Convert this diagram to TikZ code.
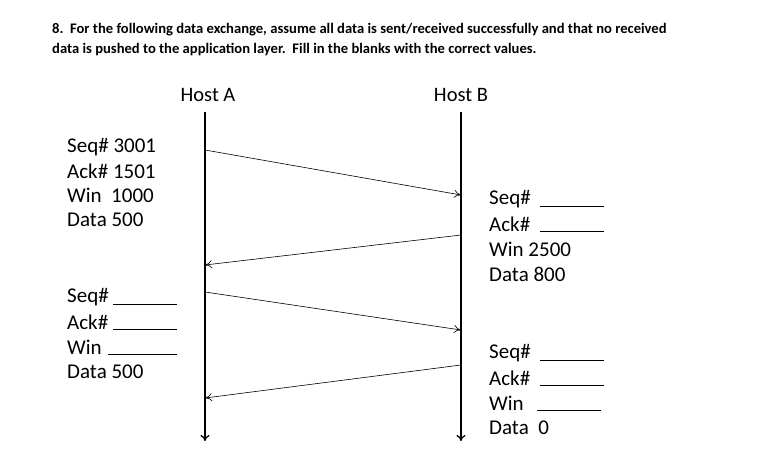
\documentclass[tikz,border=0pt]{standalone}
\usepackage{fontspec}
\setmainfont{Carlito}
\usetikzlibrary{arrows.meta}
\begin{document}
\begin{tikzpicture}[x=1pt,y=-1pt,
  lbl/.style={anchor=west,inner sep=0pt,font=\fontsize{21}{24}\selectfont},
  hd/.style={anchor=west,inner sep=0pt,font=\fontsize{14.6}{16}\selectfont\bfseries},
  tl/.style={line width=1.3pt,-{To[length=6pt,width=9pt]}},
  msg/.style={line width=0.6pt,-{To[length=7pt,width=8pt]}},
  blank/.style={line width=0.6pt}]
\useasboundingbox (0,0) rectangle (757,470);
\node[hd] (h1) at (52,30) {8.\ \ For the following data exchange, assume all data is sent/received successfully and that no received};
\node[hd] (h2) at (52,50) {data is pushed to the application layer.\ \ Fill in the blanks with the correct values.};
\node[inner sep=0pt,font=\fontsize{20.5}{22}\selectfont] (ha) at (208,95) {Host A};
\node[inner sep=0pt,font=\fontsize{20.5}{22}\selectfont] (hb) at (461,95) {Host B};
\coordinate (at) at (205,112); \coordinate (ab) at (205,441);
\coordinate (bt) at (461,112); \coordinate (bb) at (461,441);
\draw[tl] (at) -- (ab);
\draw[tl] (bt) -- (bb);
\coordinate (a1) at (205,150); \coordinate (b1) at (461,195);
\coordinate (b2) at (461,235); \coordinate (a2) at (205,265);
\coordinate (a3) at (205,292); \coordinate (b3) at (461,330);
\coordinate (b4) at (461,365); \coordinate (a4) at (205,398);
\draw[msg] (a1) -- (b1);
\draw[msg] (b2) -- (a2);
\draw[msg] (a3) -- (b3);
\draw[msg] (b4) -- (a4);
% left
\node[lbl] (l1) at (67,147) {Seq\# 3001};
\node[lbl] (l2) at (67,171) {Ack\# 1501};
\node[lbl] (l3) at (67,195) {Win\ \ 1000};
\node[lbl] (l4) at (67,220) {Data 500};
\node[lbl] (l5) at (67,297) {Seq\#};
\node[lbl] (l6) at (67,322) {Ack\#};
\node[lbl] (l7) at (67,347) {Win};
\node[lbl] (l8) at (67,372) {Data 500};
\draw[blank] (113,304)--(177,304) (113,329)--(177,329) (108,354)--(177,354);
% right
\node[lbl] (r1) at (489,199) {Seq\#};
\node[lbl] (r2) at (489,224) {Ack\#};
\node[lbl] (r3) at (489,249) {Win 2500};
\node[lbl] (r4) at (489,274) {Data 800};
\draw[blank] (540,206)--(604,206) (540,231)--(604,231);
\node[lbl] (r5) at (489,353) {Seq\#};
\node[lbl] (r6) at (489,378) {Ack\#};
\node[lbl] (r7) at (489,403) {Win};
\node[lbl] (r8) at (489,428) {Data\ \ 0};
\draw[blank] (540,360)--(604,360) (540,385)--(604,385) (537,410)--(601,410);
\end{tikzpicture}
\end{document}
